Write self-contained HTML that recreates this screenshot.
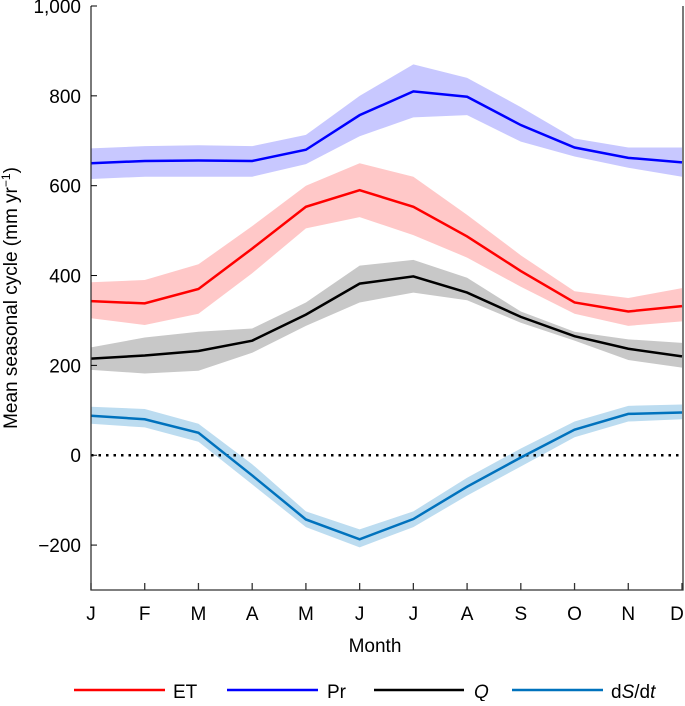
<!DOCTYPE html>
<html><head><meta charset="utf-8"><style>
body{margin:0;background:#fff;font-family:"Liberation Sans",sans-serif}
svg text{font-family:"Liberation Sans",sans-serif;font-size:19px;fill:#000}
</style></head><body>
<svg id="chart" width="685" height="701" xmlns="http://www.w3.org/2000/svg"></svg>
<script>
const months=["J","F","M","A","M","J","J","A","S","O","N","D"];
const yTicks=[-200,0,200,400,600,800,1000];
const yTickLabels=["\u2212200","0","200","400","600","800","1,000"];
const prMean=[650,655,656,655,680,757,810,798,735,685,662,652];
const prUpper=[683,688,690,688,713,800,870,840,775,705,685,685];
const prLower=[615,620,620,620,648,710,752,757,698,665,640,620];
const etMean=[343,338,370,460,553,590,553,487,410,340,320,332];
const etUpper=[385,390,425,510,600,650,620,535,445,365,350,372];
const etLower=[305,290,315,405,505,530,490,440,375,315,288,298];
const qMean=[215,222,232,255,313,382,398,362,308,265,237,220];
const qUpper=[240,262,275,282,340,422,435,395,320,275,258,250];
const qLower=[190,182,188,228,288,340,362,345,295,255,212,195];
const dsMean=[88,80,50,-45,-143,-187,-142,-70,-5,57,92,95];
const dsUpper=[108,103,70,-20,-125,-165,-125,-50,15,75,110,113];
const dsLower=[70,62,30,-65,-160,-205,-160,-90,-25,40,75,80];

const L=91,R=682,T=6,B=590,yMin=-300,yMax=1000;
const x=i=>L+i*(R-L)/11;
const y=v=>B-(v-yMin)*(B-T)/(yMax-yMin);
const svg=document.getElementById('chart');
const NS="http://www.w3.org/2000/svg";
function mk(tag,attrs){const e=document.createElementNS(NS,tag);for(const k in attrs)e.setAttribute(k,attrs[k]);svg.appendChild(e);return e;}
const series=[
 {name:"pr",m:prMean,u:prUpper,l:prLower,c:"#0000ff",f:"#c8c8ff"},
 {name:"et",m:etMean,u:etUpper,l:etLower,c:"#ff0000",f:"#ffc8c8"},
 {name:"q",m:qMean,u:qUpper,l:qLower,c:"#000000",f:"#c8c8c8"},
 {name:"ds",m:dsMean,u:dsUpper,l:dsLower,c:"#0072bd",f:"#bcdcf0"}];
series.forEach(s=>{
 let d=s.u.map((v,i)=>(i?"L":"M")+x(i)+","+y(v)).join("")+s.l.map((v,i)=>i).reverse().map(i=>"L"+x(i)+","+y(s.l[i])).join("")+"Z";
 const b=mk("path",{d:d,fill:s.f,stroke:"none"});
 
 
});
const zl=mk("line",{x1:L,x2:R,y1:y(0),y2:y(0),stroke:"#000","stroke-width":2.5,"stroke-dasharray":"2.5,5"});


series.forEach(s=>{
 const p=mk("path",{d:s.m.map((v,i)=>(i?"L":"M")+x(i)+","+y(v)).join(""),fill:"none",stroke:s.c,"stroke-width":2.5});
 
 
});
const ax=mk("path",{d:`M${L},${T}L${L},${B}L${R+1},${B}L${R+1},${T}`,fill:"none",stroke:"#333","stroke-width":1.3});


yTicks.forEach((v,i)=>{
 const t=mk("line",{x1:L,x2:L+6,y1:y(v),y2:y(v),stroke:"#000"});
 
 
 const tx=mk("text",{x:L-10,y:y(v)+7,"text-anchor":"end"});tx.textContent=yTickLabels[i];
 
 
});
months.forEach((m,i)=>{
 const t=mk("line",{x1:x(i),x2:x(i),y1:B,y2:B-7,stroke:"#333","stroke-width":1.3});
 
 
 const tx=mk("text",{x:Math.min(x(i),677),y:620,"text-anchor":"middle"});tx.textContent=m;
 
 
});
</script>
<svg style="position:absolute;left:0;top:0" width="685" height="701" xmlns="http://www.w3.org/2000/svg">
<text x="375" y="652" text-anchor="middle">Month</text>
<text transform="translate(17,298) rotate(-90)" text-anchor="middle">Mean seasonal cycle (mm yr<tspan dy="-7" font-size="12">−1</tspan><tspan dy="7">)</tspan></text>
<g>
<line x1="74" x2="165" y1="690" y2="690" stroke="#ff0000" stroke-width="2.5"/><text x="173" y="698">ET</text>
<line x1="227" x2="318" y1="690" y2="690" stroke="#0000ff" stroke-width="2.5"/><text x="327" y="698">Pr</text>
<line x1="374" x2="464" y1="690" y2="690" stroke="#000" stroke-width="2.5"/><text x="474" y="698" font-style="italic">Q</text>
<line x1="512" x2="603" y1="690" y2="690" stroke="#0072bd" stroke-width="2.5"/><text x="611" y="698">d<tspan font-style="italic">S</tspan>/d<tspan font-style="italic">t</tspan></text>
</g>
</svg>
</body></html>
